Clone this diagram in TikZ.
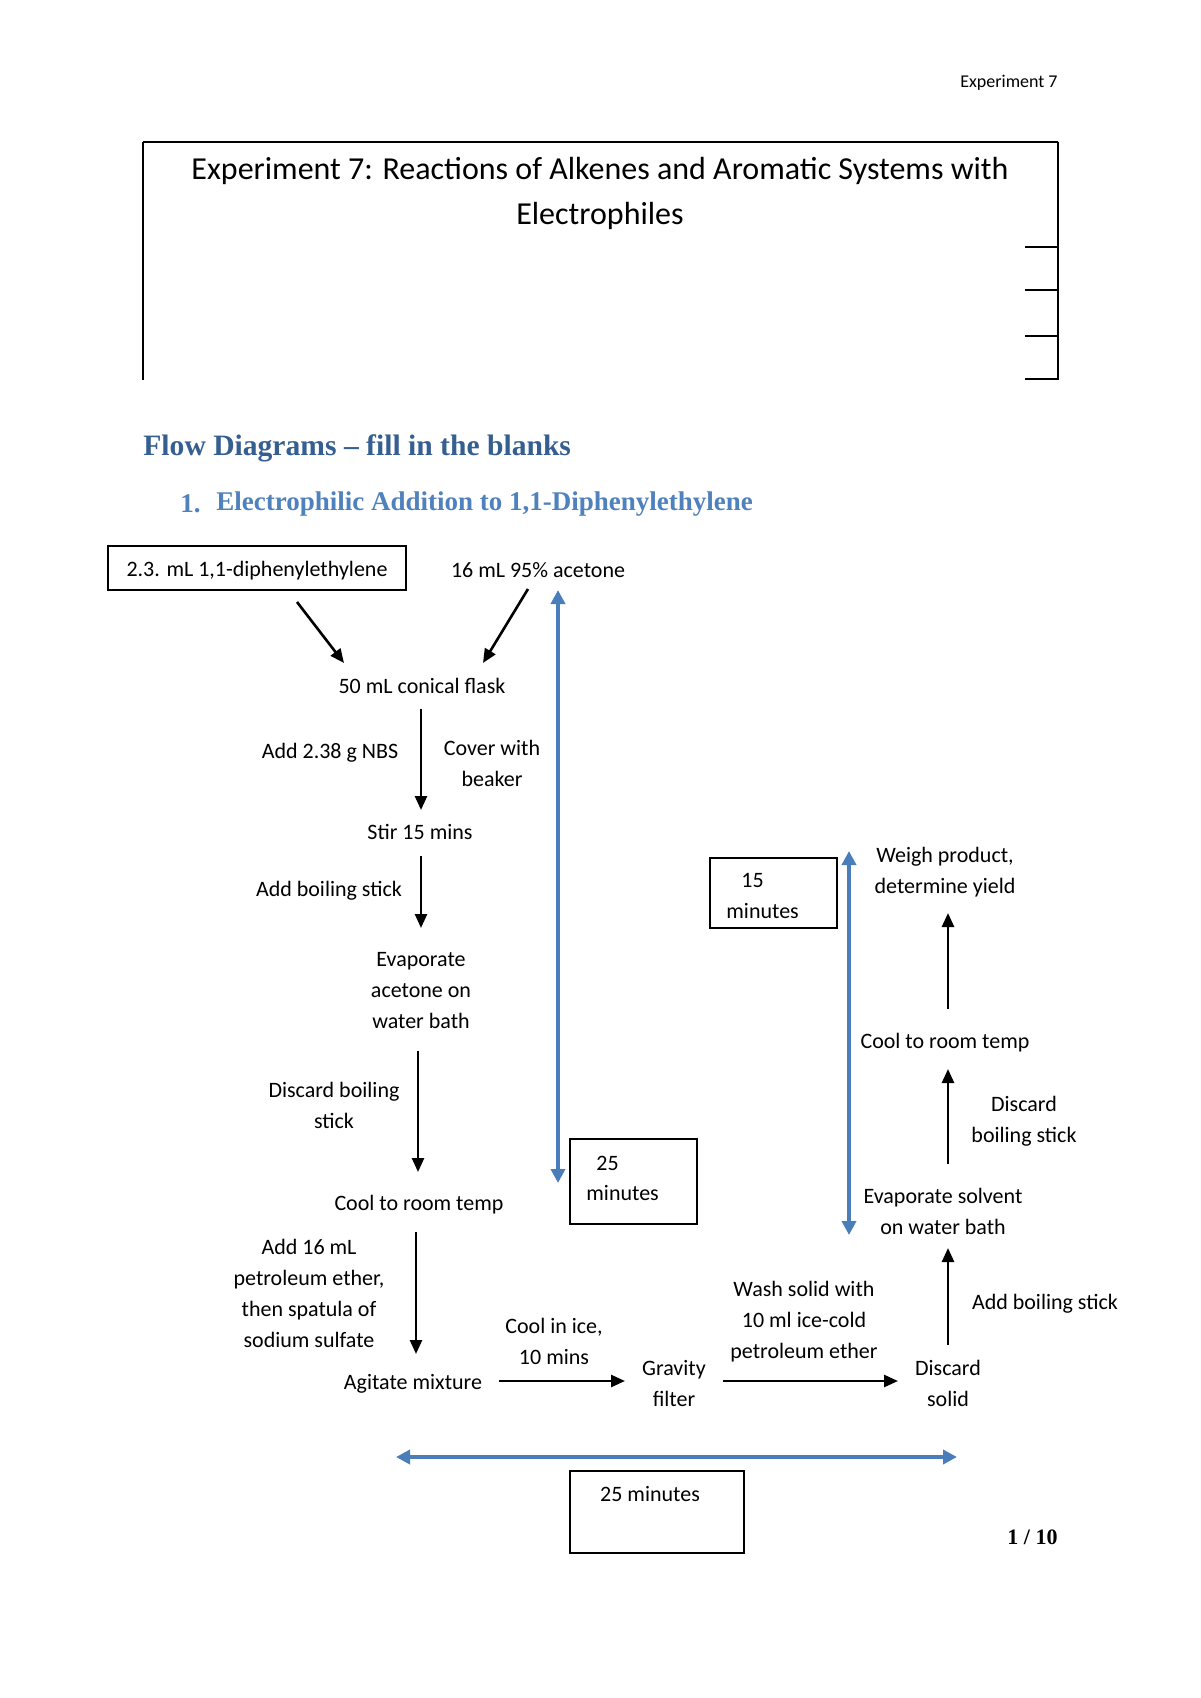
\documentclass[tikz,border=0pt]{standalone}
\usepackage{fontspec}
\setmainfont{Carlito}
\newfontfamily\headfont{Liberation Serif}
\usetikzlibrary{arrows.meta}
\definecolor{hblue}{HTML}{365F91}
\definecolor{sblue}{HTML}{4F81BD}
\definecolor{ablue}{HTML}{4A7EBB}
\begin{document}
\begin{tikzpicture}[x=0.5pt,y=-0.5pt,
 txt/.style={font=\fontsize{11}{15.5}\selectfont, align=center, inner sep=0pt},
 arr/.style={-{Triangle[length=7pt,width=6pt]}, line width=1.3pt},
 barr/.style={{Triangle[length=7pt,width=7pt]}-{Triangle[length=7pt,width=7pt]}, line width=2.4pt, draw=ablue},
 tbox/.style={draw, line width=0.6pt, inner sep=0pt}]
\useasboundingbox (0,0) rectangle (1200,1698);
% header
\node[anchor=east, inner sep=0pt, font=\fontsize{9}{11}\selectfont] (hdr) at (1058,83) {Experiment 7};
% title frame
\draw[line width=1.3pt] (143,142) -- (1058,142);
\draw[line width=0.6pt] (143,142) -- (143,380);
\draw[line width=1.3pt] (1058,142) -- (1058,380);
\foreach \yy in {247,290,336,379} \draw[line width=1.3pt] (1025,\yy) -- (1058,\yy);
\node[inner sep=0pt, font=\fontsize{16}{20}\selectfont] (t1) at (600,171) {Experiment 7: Reactions of Alkenes and Aromatic Systems with};
\node[inner sep=0pt, font=\fontsize{16}{20}\selectfont] (t2) at (600,216) {Electrophiles};
% headings
\node[anchor=west, inner sep=0pt, text=hblue, font=\headfont\bfseries\fontsize{14.8}{16}\selectfont] (h1) at (143,448) {Flow Diagrams – fill in the blanks};
\node[anchor=west, inner sep=0pt, text=sblue, font=\headfont\bfseries\fontsize{13.5}{15}\selectfont] (h2n) at (180,504) {1.};
\node[anchor=west, inner sep=0pt, text=sblue, font=\headfont\bfseries\fontsize{13.5}{15}\selectfont] (h2) at (216,504) {Electrophilic Addition to 1,1-Diphenylethylene};
% left column
\node[draw, line width=1.4pt, minimum width=149pt, minimum height=22pt, inner sep=0pt] (dpebox) at (257,568) {};
\node[txt] (dpe) at (257,571) {2.3. mL 1,1-diphenylethylene};
\node[txt] (acet) at (538,570) {16 mL 95\% acetone};
\node[txt] (flask) at (422,686) {50 mL conical flask};
\coordinate (d1s) at (297,602); \coordinate (d1e) at (344,663);
\coordinate (d2s) at (528,589); \coordinate (d2e) at (483,663);
\draw[arr] (d1s) -- (d1e);
\draw[arr] (d2s) -- (d2e);
\node[txt] (stir) at (420,832) {Stir 15 mins};
\coordinate (a1s) at (421,709); \coordinate (a1e) at (421,810);
\draw[arr] (a1s) -- (a1e);
\node[txt] (nbs) at (330,753) {Add 2.38 g NBS};
\node[txt] (cover) at (492,763) {Cover with\\beaker};
\node[txt] (evap) at (421,991) {Evaporate\\acetone on\\water bath};
\coordinate (a2s) at (421,856); \coordinate (a2e) at (421,928);
\draw[arr] (a2s) -- (a2e);
\node[txt] (abs1) at (329,891) {Add boiling stick};
\node[txt] (cool1) at (419,1205) {Cool to room temp};
\coordinate (a3s) at (418,1051); \coordinate (a3e) at (418,1172);
\draw[arr] (a3s) -- (a3e);
\node[txt] (dbs1) at (334,1105) {Discard boiling\\stick};
\node[txt] (agit) at (413,1384) {Agitate mixture};
\coordinate (a4s) at (416,1232); \coordinate (a4e) at (416,1354);
\draw[arr] (a4s) -- (a4e);
\node[txt] (pet) at (309,1293) {Add 16 mL\\petroleum ether,\\then spatula of\\sodium sulfate};
% bottom row
\node[txt] (grav) at (674,1383) {Gravity\\filter};
\coordinate (a5s) at (499,1381); \coordinate (a5e) at (625,1381);
\draw[arr] (a5s) -- (a5e);
\node[txt] (ice) at (554,1341) {Cool in ice,\\10 mins};
\node[txt] (dsol) at (948,1383) {Discard\\solid};
\coordinate (a6s) at (723,1381); \coordinate (a6e) at (898,1381);
\draw[arr] (a6s) -- (a6e);
\node[txt] (wash) at (804,1322) {Wash solid with\\10 ml ice-cold\\petroleum ether};
% right column
\node[txt] (evs) at (943,1211) {Evaporate solvent\\on water bath};
\coordinate (a7s) at (948,1345); \coordinate (a7e) at (948,1248);
\draw[arr] (a7s) -- (a7e);
\node[txt] (abs2) at (1045,1304) {Add boiling stick};
\node[txt] (cool2) at (945,1043) {Cool to room temp};
\coordinate (a8s) at (948,1164); \coordinate (a8e) at (948,1069);
\draw[arr] (a8s) -- (a8e);
\node[txt] (dbs2) at (1024,1121) {Discard\\boiling stick};
\node[txt] (weigh) at (945,872) {Weigh product,\\determine yield};
\coordinate (a9s) at (948,1009); \coordinate (a9e) at (948,913);
\draw[arr] (a9s) -- (a9e);
% blue timing arrows
\coordinate (b1t) at (558,590); \coordinate (b1b) at (558,1183);
\draw[barr] (b1t) -- (b1b);
\coordinate (b2t) at (849,851); \coordinate (b2b) at (849,1235);
\draw[barr] (b2t) -- (b2b);
\coordinate (b3l) at (396,1457); \coordinate (b3r) at (957,1457);
\draw[barr] (b3l) -- (b3r);
% time boxes
\node[tbox, minimum width=63.5pt, minimum height=35pt] (box15) at (773.5,893) {};
\node[txt, anchor=west] (n15) at (741,880) {15};
\node[txt, anchor=west] (m15) at (726,911) {minutes};
\node[tbox, minimum width=63.5pt, minimum height=42.5pt] (box25) at (633.5,1181.5) {};
\node[txt, anchor=west] (n25) at (596,1163) {25};
\node[txt, anchor=west] (m25) at (586,1193) {minutes};
\node[tbox, minimum width=87pt, minimum height=41pt] (box25h) at (657,1512) {};
\node[txt] (m25h) at (650,1494) {25 minutes};
% page number
\node[anchor=east, inner sep=0pt, font=\headfont\bfseries\fontsize{11}{13}\selectfont] (pg) at (1058,1537) {1 / 10};
\end{tikzpicture}
\end{document}
